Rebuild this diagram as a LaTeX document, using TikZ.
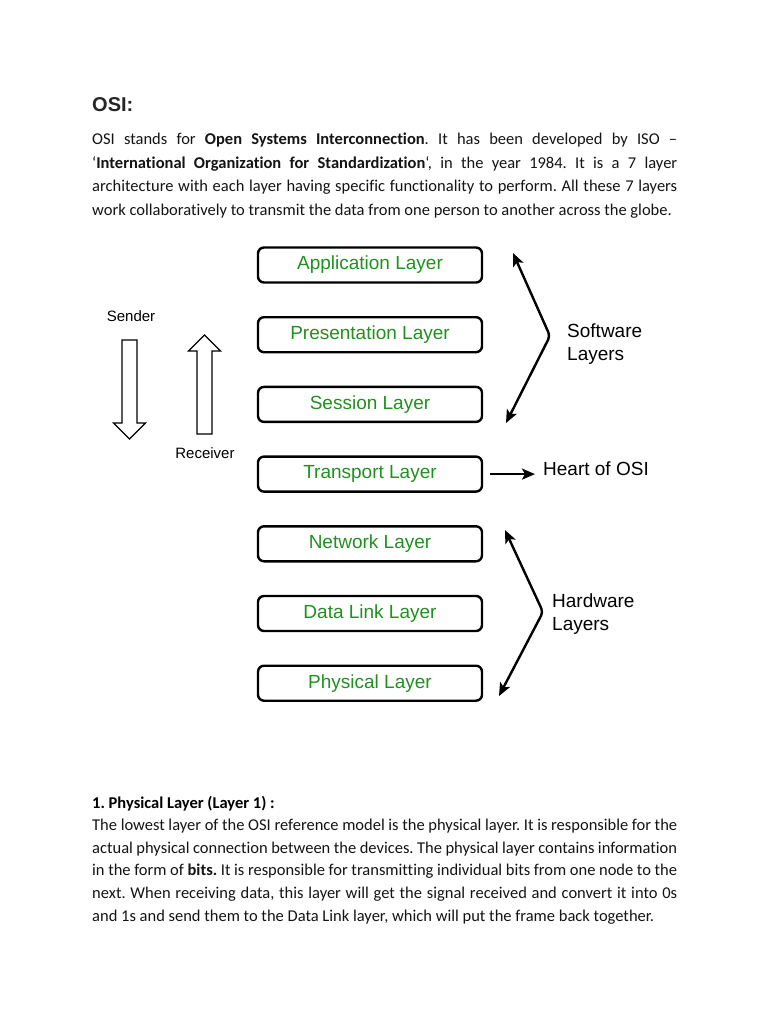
\documentclass[tikz,border=0pt]{standalone}
\usepackage{fontspec}
\setmainfont{Carlito}[Ligatures=NoCommon]
\newfontfamily\diagfont{Liberation Sans}
\usetikzlibrary{positioning,arrows.meta}
\definecolor{layergreen}{RGB}{32,145,32}
\definecolor{bodygray}{RGB}{20,20,20}
\frenchspacing

\begin{document}
\begin{tikzpicture}[
    x=1pt, y=-1pt,
    node distance=32.3pt,
    every node/.style={inner sep=0pt, text=bodygray},
    layer/.style={draw=black, line width=2.4pt, rounded corners=6pt, minimum width=224pt, minimum height=35pt,
        text=layergreen, font=\diagfont\fontsize{19}{22}\selectfont},
    sidetext/.style={anchor=base west, align=left, text=black, font=\diagfont\fontsize{19}{23}\selectfont},
    captext/.style={text=black, font=\diagfont\fontsize{15}{18}\selectfont},
    para/.style={anchor=base west, text width=585pt, align=justify, font=\fontsize{16.5}{23.4}\selectfont},
    hollow/.style={draw=black, line width=1.1pt, fill=white},
    bracket/.style={draw=black, line width=2.4pt, rounded corners=4pt,
        {Stealth[length=13pt,width=11pt,inset=3pt]}-{Stealth[length=13pt,width=11pt,inset=3pt]}},
    pointer/.style={draw=black, line width=2.4pt, -{Stealth[length=13pt,width=11pt,inset=3pt]}}
]
\useasboundingbox[fill=white] (0,0) rectangle (768,1024);

\node[anchor=base west, text=black!85, font=\diagfont\bfseries\fontsize{20}{24}\selectfont] (title) at (92,112) {OSI:};
\node[para] (intro) at (92,145) {OSI stands for \textbf{Open Systems Interconnection}. It has been developed by ISO --\linebreak
    ‘\textbf{International Organization for Standardization}‘, in the year 1984. It is a 7 layer\linebreak
    architecture with each layer having specific functionality to perform. All these 7 layers\linebreak
    work collaboratively to transmit the data from one person to another across the globe.};

\node[layer] (app) at (370,265) {Application Layer};
\node[layer, below=of app] (pres) {Presentation Layer};
\node[layer, below=of pres] (sess) {Session Layer};
\node[layer, below=of sess] (trans) {Transport Layer};
\node[layer, below=of trans] (net) {Network Layer};
\node[layer, below=of net] (link) {Data Link Layer};
\node[layer, below=of link] (phys) {Physical Layer};

\node[captext] (sender) at (131,316) {Sender};
\node[captext] (receiver) at (205,453) {Receiver};
\draw[hollow] (122,340) -- (137,340) -- (137,423) -- (145.5,423) -- (129.5,439) -- (113.5,423) -- (122,423) -- cycle;
\draw[hollow] (204.5,335) -- (220.5,351) -- (212,351) -- (212,434) -- (197,434) -- (197,351) -- (188.5,351) -- cycle;

\coordinate (swtop) at (513,253);
\coordinate (swmid) at (550,336);
\coordinate (swbot) at (506,423);
\draw[bracket] (swtop) -- (swmid) -- (swbot);
\node[sidetext] (software) at (567,360) {Software\\Layers};

\node[sidetext] (heart) at (543,475) {Heart of OSI};
\draw[pointer] ([xshift=7pt]trans.east) -- ([xshift=-8pt]heart.west |- trans.east);

\coordinate (hwtop) at (505,530);
\coordinate (hwmid) at (543,612);
\coordinate (hwbot) at (499,696);
\draw[bracket] (hwtop) -- (hwmid) -- (hwbot);
\node[sidetext] (hardware) at (552,630) {Hardware\\Layers};

\node[para, font=\fontsize{16.5}{22.6}\selectfont] (physdesc) at (92,808) {\textbf{\color{black}1. Physical Layer (Layer 1) :}\\
    The lowest layer of the OSI reference model is the physical layer. It is responsible for the\linebreak
    actual physical connection between the devices. The physical layer contains information\linebreak
    in the form of \textbf{bits.} It is responsible for transmitting individual bits from one node to the\linebreak
    next. When receiving data, this layer will get the signal received and convert it into 0s\linebreak
    and 1s and send them to the Data Link layer, which will put the frame back together.};
\end{tikzpicture}
\end{document}
